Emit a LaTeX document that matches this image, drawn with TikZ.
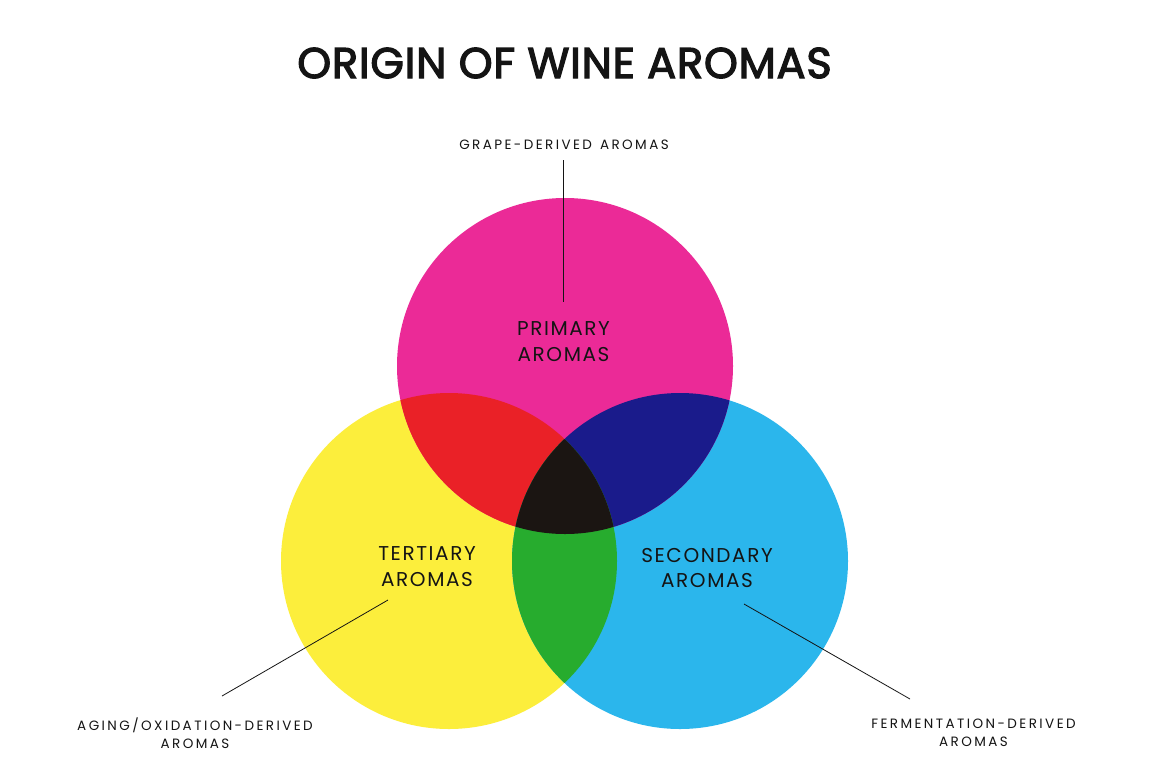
\documentclass[tikz,border=0pt]{standalone}
\usepackage{fontspec}
\setmainfont{Poppins}
\newfontfamily\titlefont{Poppins}[FakeBold=3,LetterSpace=2]
\newfontfamily\circfont{Poppins}[LetterSpace=8]
\newfontfamily\smallfont{Poppins}[LetterSpace=18]
\definecolor{cMag}{RGB}{235,42,151}
\definecolor{cYel}{RGB}{252,238,60}
\definecolor{cCya}{RGB}{43,182,236}
\definecolor{cRed}{RGB}{234,33,39}
\definecolor{cNav}{RGB}{26,27,139}
\definecolor{cGrn}{RGB}{39,172,46}
\definecolor{cBlk}{RGB}{27,21,18}
\definecolor{cInk}{RGB}{20,20,20}
\begin{document}
\begin{tikzpicture}[x=1pt,y=-1pt,
  titletext/.style={inner sep=0pt,text=cInk,font=\titlefont\fontsize{43}{43}\selectfont},
  circtext/.style={inner sep=0pt,text=cInk,align=center,font=\circfont\fontsize{20}{25.7}\selectfont},
  smalltext/.style={inner sep=0pt,text=cInk,align=center,font=\smallfont\fontsize{13.5}{18.5}\selectfont},
  leader/.style={draw=cInk,line width=0.8pt}]
\useasboundingbox (0,0) rectangle (1161,764);
\fill[white] (0,0) rectangle (1161,764);
% circle centres
\coordinate (M) at (565,366);
\coordinate (Y) at (449,561);
\coordinate (C) at (680,561);
\def\R{168}
% base circles
\fill[cYel] (Y) circle[radius=\R];
\fill[cCya] (C) circle[radius=\R];
\fill[cMag] (M) circle[radius=\R];
% pairwise overlaps
\begin{scope}
  \clip (M) circle[radius=\R];
  \fill[cRed] (Y) circle[radius=\R];
  \fill[cNav] (C) circle[radius=\R];
\end{scope}
\begin{scope}
  \clip (Y) circle[radius=\R];
  \fill[cGrn] (C) circle[radius=\R];
\end{scope}
\begin{scope}
  \clip (M) circle[radius=\R];
  \clip (Y) circle[radius=\R];
  \fill[cBlk] (C) circle[radius=\R];
\end{scope}
% texts
\node[titletext] (title) at (564.5,63) {ORIGIN OF WINE AROMAS};
\node[smalltext] (grape) at (564,144.6) {GRAPE-DERIVED\hspace{2pt} AROMAS};
\node[circtext] (prim) at (563.5,341.7) {PRIMARY\\AROMAS};
\node[circtext] (tert) at (427,566.5) {TERTIARY\\AROMAS};
\node[circtext] (seco) at (707,568) {SECONDARY\\AROMAS};
\node[smalltext] (aging) at (195,733) {AGING/OXIDATION-DERIVED\\AROMAS};
\node[smalltext] (ferm) at (973.5,733) {FERMENTATION-DERIVED\\AROMAS};
% leader lines
\coordinate (pt) at (563,302);
\coordinate (tt) at (388,600);
\coordinate (st) at (744,604);
\coordinate (pb) at (563,160);
\coordinate (ab) at (222,696);
\coordinate (fb) at (910,699);
\draw[leader] (pb) -- (pt);
\draw[leader] (ab) -- (tt);
\draw[leader] (fb) -- (st);
\end{tikzpicture}
\end{document}
